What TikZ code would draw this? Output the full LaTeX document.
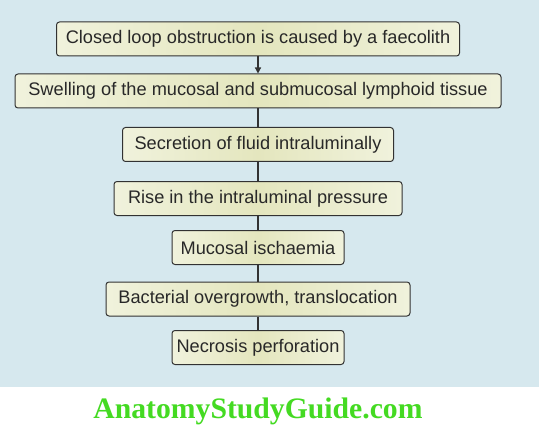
\documentclass[tikz,border=0pt]{standalone}
\usepackage{fontspec}
\setmainfont{Liberation Sans}
\newfontfamily\sitefont{Liberation Serif}
\usetikzlibrary{arrows.meta}
\definecolor{panelblue}{RGB}{214,232,238}
\definecolor{boxmid}{RGB}{228,230,190}
\definecolor{boxedge}{RGB}{240,242,220}
\definecolor{boxline}{RGB}{50,50,50}
\definecolor{textgray}{RGB}{40,40,40}
\definecolor{sitegreen}{RGB}{68,218,34}
\begin{document}
\begin{tikzpicture}[x=1pt,y=-1pt,
    stage/.style={draw=boxline,line width=1pt,rounded corners=3pt,
      left color=boxedge,right color=boxedge,middle color=boxmid,
      minimum height=34pt,inner xsep=0pt,text=textgray,
      font=\fontsize{18.2}{21}\selectfont},
    link/.style={draw=boxline,line width=1.2pt}]
   \useasboundingbox (0,0) rectangle (539,436);
   % Hintergrund
   \fill[panelblue] (0,0) rectangle (539,387);
   % Kaskade
   \node[stage,minimum width=403pt] (faecolith) at (258,39) {Closed loop obstruction is caused by a faecolith};
   \node[stage,minimum width=486pt] (swelling) at (258,91) {Swelling of the mucosal and submucosal lymphoid tissue};
   \node[stage,minimum width=271pt] (secretion) at (258,144.5) {Secretion of fluid intraluminally};
   \node[stage,minimum width=288pt] (pressure) at (258,198.5) {Rise in the intraluminal pressure};
   \node[stage,minimum width=172pt] (ischaemia) at (258,247.5) {Mucosal ischaemia};
   \node[stage,minimum width=304pt] (bacteria) at (258,299) {Bacterial overgrowth, translocation};
   \node[stage,minimum width=172pt] (necrosis) at (258,347.5) {Necrosis perforation};
   % Verbindungen
   \draw[link,-{Triangle[length=6pt,width=6pt]}] (faecolith) -- (swelling);
   \draw[link] (swelling) -- (secretion);
   \draw[link] (secretion) -- (pressure);
   \draw[link] (pressure) -- (ischaemia);
   \draw[link] (ischaemia) -- (bacteria);
   \draw[link] (bacteria) -- (necrosis);
   % Quelle
   \node[text=sitegreen,font=\sitefont\bfseries\fontsize{29.7}{32}\selectfont] (site) at (258,411) {AnatomyStudyGuide.com};
\end{tikzpicture}
\end{document}
